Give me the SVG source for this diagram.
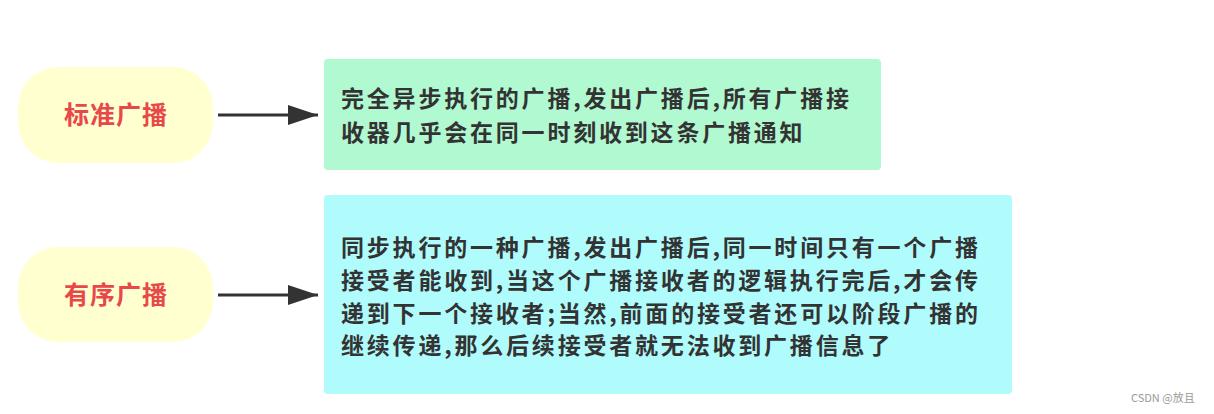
<svg xmlns="http://www.w3.org/2000/svg" width="1214" height="414" viewBox="0 0 1214 414">
<style>
.pill{fill:#ffffd0;}
.lbl{font-family:"Noto Sans CJK SC","Noto Sans",sans-serif;font-weight:bold;font-size:25px;fill:#e8484a;text-anchor:middle;letter-spacing:1px;}
.txt{font-family:"Noto Sans CJK SC","Noto Sans",sans-serif;font-weight:bold;font-size:23px;fill:#333;letter-spacing:2.8px;}
.conn{stroke:#333;stroke-width:3;fill:none;}
.wm{font-family:"Noto Sans CJK SC","Liberation Sans",sans-serif;font-size:11px;fill:#999;}
</style>
<defs>
<marker id="ah" markerWidth="30" markerHeight="20" refX="30" refY="10" orient="auto" markerUnits="userSpaceOnUse">
<path d="M0,0 L30,10 L0,20 Z" fill="#333"/>
</marker>
</defs>
<rect width="1214" height="414" fill="#fff"/>
<g id="node-standard">
<rect class="pill" x="18" y="67" width="195" height="96" rx="40" ry="40"/>
<text class="lbl" x="116" y="124">标准广播</text>
</g>
<g id="desc-standard">
<rect x="324" y="59" width="557" height="111" rx="4" fill="#b1f9d0"/>
<text class="txt" x="341" y="107">完全异步执行的广播,发出广播后,所有广播接</text>
<text class="txt" x="341" y="141">收器几乎会在同一时刻收到这条广播通知</text>
</g>
<g id="node-ordered">
<rect class="pill" x="18" y="247" width="195" height="95" rx="40" ry="40"/>
<text class="lbl" x="116" y="304">有序广播</text>
</g>
<g id="desc-ordered">
<rect x="324" y="195" width="688" height="199" rx="4" fill="#b0fcfc"/>
<text class="txt" x="341" y="256">同步执行的一种广播,发出广播后,同一时间只有一个广播</text>
<text class="txt" x="341" y="289">接受者能收到,当这个广播接收者的逻辑执行完后,才会传</text>
<text class="txt" x="341" y="322">递到下一个接收者;当然,前面的接受者还可以阶段广播的</text>
<text class="txt" x="341" y="354">继续传递,那么后续接受者就无法收到广播信息了</text>
</g>
<g id="connectors">
<line class="conn" x1="218" y1="115" x2="318" y2="115" marker-end="url(#ah)"/>
<line class="conn" x1="218" y1="295" x2="318" y2="295" marker-end="url(#ah)"/>
</g>
<text class="wm" x="1131" y="402">CSDN @放且</text>
</svg>
